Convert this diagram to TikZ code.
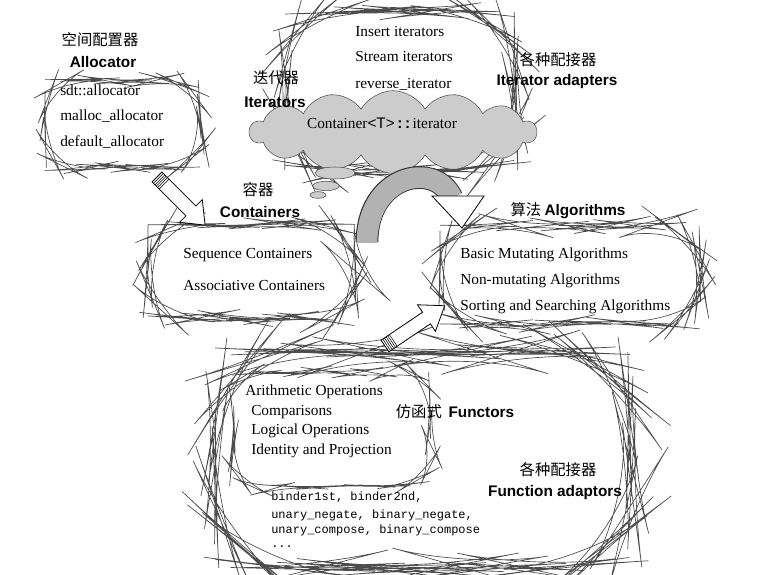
\documentclass[tikz,border=0pt]{standalone}
\usepackage{fontspec}
\setmainfont{Liberation Serif}
\newfontfamily\lsans{Liberation Sans}
\newfontfamily\lmono{Liberation Mono}
\newfontfamily\cjk{Noto Sans CJK SC}
\usetikzlibrary{decorations.pathmorphing,shapes.symbols,shapes.geometric}
\begin{document}
\begin{tikzpicture}[x=0.75pt,y=-0.75pt,
  blob/.style={draw=black!70,line width=0.5pt,decorate,decoration={random steps,segment length=12pt,amplitude=2pt},rounded corners=5pt},
  txt/.style={font=\fontsize{11.5}{13}\selectfont,anchor=west,inner sep=0},
  lab/.style={font=\lsans\bfseries\fontsize{11.5}{13}\selectfont,inner sep=0},
  cj/.style={font=\cjk\fontsize{11.5}{13}\selectfont,inner sep=0},
  mono/.style={font=\lmono\fontsize{9}{11}\selectfont,anchor=west,inner sep=0},
  bub/.style={draw=black!70,fill=black!20,ellipse,inner sep=0},
  harrow/.style={draw=black,fill=white,line width=0.6pt}]
\useasboundingbox (0,0) rectangle (759,574);
\pgfmathsetseed{7}
% blobs
\draw[blob] (45,80) [rounded corners=28pt] rectangle (200,168);
\draw[blob] (285,12) [rounded corners=45pt] rectangle (515,170);
\draw[blob] (148,224) [rounded corners=35pt] rectangle (355,318);
\draw[blob] (440,226) [rounded corners=35pt] rectangle (700,324);
\draw[blob] (215,352) [rounded corners=60pt] rectangle (630,568);
\draw[blob] (232,372) [rounded corners=25pt] rectangle (430,486);
% gray cloud
\node[cloud,cloud puffs=14,cloud puff arc=120,cloud ignores aspect,draw=black!70,fill=black!20,minimum width=215,minimum height=62,inner sep=0] (cl) at (393,132) {};
\node[bub,minimum width=30,minimum height=9] (b1) at (335,173) {};
\node[bub,minimum width=20,minimum height=7] (b2) at (326,186) {};
\node[bub,minimum width=12,minimum height=5] (b3) at (318,195) {};
% curved arrow
\draw[line width=17pt,black!80] (367,242) .. controls (367,175) and (435,160) .. (452,198);
\draw[line width=15.5pt,black!30] (367,243) .. controls (367,175) and (435,160) .. (452,198);
\draw[harrow] (432,196) -- (484,196) -- (462,228) -- cycle;
% straight hollow arrows
\begin{scope}[shift={(157,177)},rotate=-45]
\draw[harrow] (0,-7) -- (48,-7) -- (48,-16) -- (68,0) -- (48,16) -- (48,7) -- (0,7) -- cycle;
\foreach \i in {2,4,...,10} \draw[line width=0.4pt] (\i,-7) -- (\i,7);
\end{scope}
\begin{scope}[shift={(385,346)},rotate=34]
\draw[harrow] (0,-7) -- (50,-7) -- (50,-16) -- (72,0) -- (50,16) -- (50,7) -- (0,7) -- cycle;
\foreach \i in {2,4,...,10} \draw[line width=0.4pt] (\i,-7) -- (\i,7);
\end{scope}
% labels
\node[cj] (l1) at (100,40) {空间配置器};
\node[lab] (l2) at (103,62) {Allocator};
\node[txt] (a1) at (60,90) {sdt::allocator};
\node[txt] (a2) at (60,116) {malloc\_allocator};
\node[txt] (a3) at (60,142) {default\_allocator};
\node[txt] (i1) at (355,32) {Insert iterators};
\node[txt] (i2) at (355,57) {Stream iterators};
\node[txt] (i3) at (355,84) {reverse\_iterator};
\node[cj] (l3) at (276,78) {迭代器};
\node[lab] (l4) at (275,102) {Iterators};
\node[inner sep=0,font=\fontsize{11.5}{13}\selectfont] (ci) at (382,123) {Container{\lsans<T>}{\lsans\bfseries\,:\,:\,}iterator};
\node[cj] (l5) at (558,60) {各种配接器};
\node[lab] (l6) at (557,82) {Iterator adapters};
\node[cj] (l7) at (258,190) {容器};
\node[lab] (l8) at (260,212) {Containers};
\node[inner sep=0] (l9) at (568,211) {{\cjk\fontsize{11.5}{13}\selectfont 算法}\ {\lsans\bfseries\fontsize{11.5}{13}\selectfont Algorithms}};
\node[txt] (g1) at (460,255) {Basic Mutating Algorithms};
\node[txt] (g2) at (460,281) {Non-mutating Algorithms};
\node[txt] (g3) at (460,307) {Sorting and Searching Algorithms};
\node[txt] (c1) at (183,255) {Sequence Containers};
\node[txt] (c2) at (183,285) {Associative Containers};
\node[txt] (f1) at (245,392) {Arithmetic Operations};
\node[txt] (f2) at (251,412) {Comparisons};
\node[txt] (f3) at (251,431) {Logical Operations};
\node[txt] (f4) at (251,451) {Identity and Projection};
\node[inner sep=0] (l10) at (455,412) {{\cjk\fontsize{11.5}{13}\selectfont 仿函式}\ \ {\lsans\bfseries\fontsize{11.5}{13}\selectfont Functors}};
\node[cj] (l11) at (558,470) {各种配接器};
\node[lab] (l12) at (555,493) {Function adaptors};
\node[mono] (m1) at (271,497) {binder1st, binder2nd,};
\node[mono] (m2) at (271,515) {unary\_negate, binary\_negate,};
\node[mono] (m3) at (271,530) {unary\_compose, binary\_compose};
\node[mono] (m4) at (271,547) {...};
\end{tikzpicture}
\end{document}
